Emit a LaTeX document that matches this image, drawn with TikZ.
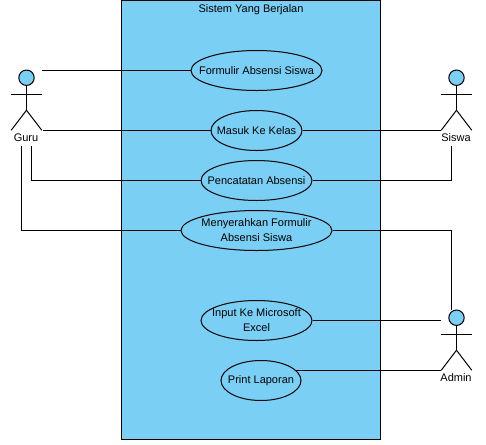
\documentclass[tikz,border=0pt]{standalone}
\usepackage{fontspec}
\setmainfont{Liberation Sans}
\usetikzlibrary{calc,positioning,shapes.geometric}
\definecolor{sysblue}{HTML}{7ACFF5}
\tikzset{
  vplabel/.style={font=\fontsize{8.25}{11.25}\selectfont},
  usecase/.style={ellipse, draw, line width=0.75pt, fill=sysblue, inner sep=-10pt, align=center, minimum height=30pt, vplabel},
  actorbox/.style={minimum width=22.5pt, minimum height=56.25pt, inner sep=0pt},
  actorline/.style={line width=0.75pt},
  conn/.style={line width=0.75pt},
}
% stick figure inside an empty box, offsets in px from the top of the box
\newcommand{\actorfig}[2]{
  \node[actorbox] (#1) at (#2) {};
  \draw[actorline, fill=sysblue] ($(#1.north)+(0,7.5)$) circle[radius=7.7];
  \draw[actorline] ($(#1.north)+(0,15.2)$) -- ($(#1.north)+(0,40)$);
  \draw[actorline] ($(#1.north west)+(0,24)$) -- ($(#1.north east)+(0,24)$);
  \draw[actorline] ($(#1.north west)+(0,60)$) -- ($(#1.north)+(0,40)$) -- ($(#1.north east)+(0,60)$);
}
\begin{document}
\begin{tikzpicture}[x=0.75pt, y=-0.75pt]
    \useasboundingbox (0,0) rectangle (486,444);
    \node[draw, line width=0.75pt, fill=sysblue, minimum width=194.25pt, minimum height=329.25pt, inner sep=0pt] (sys) at (251,220) {};
    \node[vplabel, below=0pt of sys.north] (systitle) {Sistem Yang Berjalan};

    \node[usecase, minimum width=98.25pt] (form) at (256.5,70.5) {Formulir Absensi Siswa};
    \node[usecase, minimum width=68.25pt] (masuk) at (256.5,130.5) {Masuk Ke Kelas};
    \node[usecase, minimum width=83.25pt] (catat) at (256.5,180.5) {Pencatatan Absensi};
    \node[usecase, minimum width=113.25pt] (serah) at (256.5,230.5) {Menyerahkan Formulir\\Absensi Siswa};
    \node[usecase, minimum width=83.25pt] (input) at (256.5,320.5) {Input Ke Microsoft\\Excel};
    \node[usecase, minimum width=60pt] (print) at (261,380.5) {Print Laporan};

    \actorfig{guru}{26.5,108}
    \actorfig{siswa}{456.5,108}
    \actorfig{admin}{456.5,348}
    \node[vplabel] (gurulabel) at (26,138) {Guru};
    \node[vplabel] (siswalabel) at (456,138) {Siswa};
    \node[vplabel] (adminlabel) at (456,378) {Admin};

    \draw[conn] (guru.east |- form) -- (form);
    \draw[conn] ($(guru.east |- masuk)+(1.5,0)$) -- (masuk);
    \draw[conn] ([xshift=3.75pt]guru.south) |- (catat);
    \draw[conn] ([xshift=-3.75pt]guru.south) |- (serah);
    \draw[conn] (siswa.west |- masuk) -- (masuk);
    \draw[conn] ([xshift=-3.75pt]siswa.south) |- (catat);
    \draw[conn] (serah) -| ([xshift=-3.75pt]admin.north);
    \draw[conn] (admin.west |- input) -- (input);
    \draw[conn] (print.16) -- (admin.west |- print.16);
\end{tikzpicture}
\end{document}
